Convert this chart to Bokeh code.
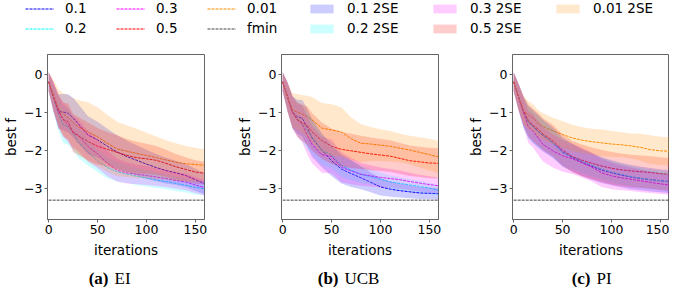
import numpy as np
from bokeh.plotting import figure
from bokeh.layouts import column, row
from bokeh.models import Range1d, FixedTicker, Legend, LegendItem, Label
from bokeh.embed import file_html
from bokeh.resources import INLINE

# ---------------- data ----------------
ITER = [0, 5, 10, 15, 20, 25, 30, 40, 50, 60, 70, 80, 90, 100, 110, 120, 130, 140, 150, 159]
FMIN = -3.32
SERIES = ["0.1", "0.2", "0.3", "0.5", "0.01"]
X_TICKS = [0, 50, 100, 150]
Y_TICKS = [0, -1, -2, -3]
Y_TICK_LABELS = ["0", "\u22121", "\u22122", "\u22123"]
PANEL_CAPTIONS = [("(a)", "EI"), ("(b)", "UCB"), ("(c)", "PI")]

# (a) EI : mean best f
EI_01 = [-0.2, -0.6, -0.98, -1.0, -1.03, -1.15, -1.3, -1.6, -1.73, -1.9, -2.05, -2.17, -2.27, -2.37, -2.46, -2.54, -2.6, -2.67, -2.78, -2.88]
EI_02 = [-0.2, -0.65, -1.05, -1.34, -1.38, -1.55, -1.78, -2.05, -2.28, -2.46, -2.57, -2.63, -2.69, -2.74, -2.79, -2.83, -2.88, -2.93, -2.98, -3.02]
EI_03 = [-0.2, -0.6, -1.0, -1.2, -1.35, -1.52, -1.6, -1.9, -2.1, -2.35, -2.53, -2.6, -2.64, -2.67, -2.71, -2.75, -2.8, -2.84, -2.92, -2.99]
EI_05 = [-0.2, -0.6, -0.95, -1.2, -1.25, -1.55, -1.62, -1.77, -1.9, -1.98, -2.06, -2.14, -2.2, -2.23, -2.27, -2.35, -2.44, -2.51, -2.58, -2.61]
EI_001 = [-0.2, -0.55, -0.9, -1.05, -1.15, -1.28, -1.38, -1.52, -1.65, -1.82, -1.97, -2.03, -2.09, -2.14, -2.2, -2.26, -2.32, -2.36, -2.38, -2.4]
# (a) EI : 2SE
EI_01_SE = [0.25, 0.38, 0.45, 0.48, 0.5, 0.52, 0.52, 0.5, 0.48, 0.46, 0.44, 0.42, 0.4, 0.38, 0.36, 0.34, 0.32, 0.3, 0.29, 0.28]
EI_02_SE = [0.25, 0.38, 0.45, 0.48, 0.48, 0.45, 0.42, 0.35, 0.3, 0.28, 0.26, 0.24, 0.23, 0.22, 0.21, 0.2, 0.2, 0.19, 0.19, 0.18]
EI_03_SE = [0.25, 0.38, 0.42, 0.45, 0.45, 0.43, 0.42, 0.4, 0.38, 0.34, 0.3, 0.28, 0.26, 0.25, 0.24, 0.23, 0.22, 0.22, 0.21, 0.21]
EI_05_SE = [0.25, 0.38, 0.42, 0.45, 0.48, 0.5, 0.5, 0.5, 0.48, 0.46, 0.45, 0.43, 0.42, 0.4, 0.38, 0.36, 0.34, 0.32, 0.31, 0.3]
EI_001_SE = [0.25, 0.4, 0.5, 0.55, 0.6, 0.65, 0.7, 0.78, 0.78, 0.75, 0.72, 0.68, 0.65, 0.6, 0.56, 0.52, 0.5, 0.47, 0.44, 0.42]

# (b) UCB : mean best f
UCB_01 = [-0.2, -0.6, -1.0, -1.12, -1.16, -1.4, -1.68, -2.0, -2.28, -2.5, -2.62, -2.73, -2.85, -2.97, -3.03, -3.07, -3.1, -3.13, -3.14, -3.15]
UCB_02 = [-0.2, -0.6, -1.0, -1.18, -1.3, -1.5, -1.65, -2.0, -2.13, -2.4, -2.53, -2.64, -2.7, -2.77, -2.84, -2.88, -2.92, -2.96, -3.0, -3.06]
UCB_03 = [-0.2, -0.6, -1.0, -1.2, -1.32, -1.6, -1.85, -2.12, -2.17, -2.45, -2.55, -2.64, -2.68, -2.72, -2.75, -2.78, -2.83, -2.87, -2.91, -2.94]
UCB_05 = [-0.2, -0.6, -1.0, -1.2, -1.28, -1.35, -1.52, -1.75, -1.9, -1.98, -2.02, -2.06, -2.1, -2.13, -2.16, -2.22, -2.28, -2.31, -2.34, -2.35]
UCB_001 = [-0.2, -0.6, -0.95, -1.0, -1.05, -1.12, -1.2, -1.42, -1.47, -1.52, -1.7, -1.82, -1.84, -1.87, -1.9, -1.95, -2.0, -2.06, -2.12, -2.18]
# (b) UCB : 2SE
UCB_01_SE = [0.25, 0.38, 0.42, 0.45, 0.48, 0.5, 0.5, 0.45, 0.4, 0.38, 0.35, 0.3, 0.26, 0.23, 0.2, 0.18, 0.17, 0.16, 0.15, 0.15]
UCB_02_SE = [0.25, 0.38, 0.42, 0.45, 0.48, 0.48, 0.45, 0.4, 0.35, 0.3, 0.26, 0.23, 0.2, 0.18, 0.17, 0.16, 0.15, 0.15, 0.14, 0.14]
UCB_03_SE = [0.25, 0.38, 0.42, 0.45, 0.48, 0.5, 0.5, 0.48, 0.45, 0.4, 0.35, 0.3, 0.28, 0.26, 0.25, 0.24, 0.23, 0.22, 0.22, 0.22]
UCB_05_SE = [0.25, 0.38, 0.42, 0.45, 0.48, 0.5, 0.5, 0.48, 0.47, 0.46, 0.45, 0.44, 0.43, 0.42, 0.42, 0.41, 0.4, 0.4, 0.4, 0.4]
UCB_001_SE = [0.25, 0.38, 0.45, 0.48, 0.5, 0.55, 0.6, 0.66, 0.68, 0.65, 0.56, 0.5, 0.45, 0.42, 0.4, 0.38, 0.38, 0.4, 0.42, 0.42]

# (c) PI : mean best f
PI_01 = [-0.2, -0.6, -1.0, -1.25, -1.38, -1.5, -1.62, -1.8, -2.05, -2.2, -2.33, -2.43, -2.53, -2.6, -2.66, -2.71, -2.75, -2.78, -2.81, -2.83]
PI_02 = [-0.2, -0.6, -1.0, -1.28, -1.4, -1.52, -1.6, -1.82, -2.07, -2.18, -2.3, -2.4, -2.5, -2.58, -2.64, -2.7, -2.74, -2.78, -2.81, -2.84]
PI_03 = [-0.2, -0.6, -1.0, -1.39, -1.5, -1.68, -1.85, -2.02, -2.15, -2.23, -2.33, -2.45, -2.6, -2.68, -2.73, -2.77, -2.81, -2.85, -2.89, -2.92]
PI_05 = [-0.2, -0.6, -0.96, -1.22, -1.35, -1.45, -1.58, -1.75, -2.0, -2.17, -2.27, -2.35, -2.42, -2.48, -2.52, -2.55, -2.57, -2.59, -2.62, -2.64]
PI_001 = [-0.2, -0.6, -0.95, -1.08, -1.15, -1.3, -1.38, -1.49, -1.59, -1.68, -1.74, -1.78, -1.81, -1.84, -1.86, -1.89, -1.93, -1.99, -2.02, -2.03]
# (c) PI : 2SE
PI_01_SE = [0.25, 0.35, 0.4, 0.42, 0.43, 0.43, 0.42, 0.4, 0.38, 0.37, 0.36, 0.35, 0.34, 0.33, 0.32, 0.32, 0.31, 0.31, 0.3, 0.3]
PI_02_SE = [0.25, 0.35, 0.4, 0.42, 0.42, 0.42, 0.4, 0.38, 0.36, 0.34, 0.32, 0.3, 0.29, 0.28, 0.27, 0.26, 0.26, 0.25, 0.25, 0.25]
PI_03_SE = [0.25, 0.35, 0.4, 0.42, 0.44, 0.45, 0.45, 0.44, 0.42, 0.4, 0.39, 0.38, 0.37, 0.35, 0.33, 0.31, 0.3, 0.28, 0.27, 0.26]
PI_05_SE = [0.25, 0.35, 0.4, 0.42, 0.43, 0.43, 0.42, 0.42, 0.41, 0.41, 0.42, 0.42, 0.42, 0.43, 0.43, 0.43, 0.43, 0.43, 0.43, 0.43]
PI_001_SE = [0.25, 0.33, 0.37, 0.37, 0.36, 0.36, 0.35, 0.34, 0.35, 0.35, 0.34, 0.34, 0.35, 0.34, 0.33, 0.33, 0.36, 0.38, 0.37, 0.37]

PANELS = [
    ({"0.1": EI_01, "0.2": EI_02, "0.3": EI_03, "0.5": EI_05, "0.01": EI_001},
     {"0.1": EI_01_SE, "0.2": EI_02_SE, "0.3": EI_03_SE, "0.5": EI_05_SE, "0.01": EI_001_SE}),
    ({"0.1": UCB_01, "0.2": UCB_02, "0.3": UCB_03, "0.5": UCB_05, "0.01": UCB_001},
     {"0.1": UCB_01_SE, "0.2": UCB_02_SE, "0.3": UCB_03_SE, "0.5": UCB_05_SE, "0.01": UCB_001_SE}),
    ({"0.1": PI_01, "0.2": PI_02, "0.3": PI_03, "0.5": PI_05, "0.01": PI_001},
     {"0.1": PI_01_SE, "0.2": PI_02_SE, "0.3": PI_03_SE, "0.5": PI_05_SE, "0.01": PI_001_SE}),
]

# ---------------- style ----------------
COLORS = {"0.1": "blue", "0.2": "cyan", "0.3": "magenta", "0.5": "red", "0.01": "darkorange"}
DASH = "3 1"
BAND_ALPHA = 0.2
FMIN_COLOR = "#444444"
SANS = "DejaVu Sans"
SERIF = "Liberation Serif"
FRAME_COLOR = "#666666"

PANEL_W = [234, 231, 204]
PANEL_R = [30, 27, 0]
PANEL_H = 210
TOTAL_W = 669
LEG_H = 50
CAP_H = 27


def make_panel(means, ses, width, right):
    p = figure(width=width, height=PANEL_H,
               x_range=Range1d(-1.2, 159.3), y_range=Range1d(-3.83, 0.52),
               min_border_left=38, min_border_right=right,
               min_border_top=4, min_border_bottom=40,
               toolbar_location=None, output_backend="svg")
    x = np.array(ITER, dtype=float)
    for s in SERIES:
        p.line(x, means[s], line_color=COLORS[s], line_dash=DASH, line_width=1)
    p.line([x[0], x[-1]], [FMIN, FMIN], line_color=FMIN_COLOR, line_dash=DASH, line_width=1)
    for s in SERIES:
        m = np.array(means[s]); e = np.array(ses[s])
        p.varea(x=x, y1=m - e, y2=m + e, fill_color=COLORS[s], fill_alpha=BAND_ALPHA)
    p.grid.visible = False
    p.outline_line_color = FRAME_COLOR
    p.xaxis.ticker = FixedTicker(ticks=X_TICKS)
    p.yaxis.ticker = FixedTicker(ticks=Y_TICKS)
    p.yaxis.major_label_overrides = {t: l for t, l in zip(Y_TICKS, Y_TICK_LABELS)}
    p.xaxis.axis_label = "iterations"
    p.yaxis.axis_label = "best f"
    for ax in p.axis:
        ax.axis_line_color = FRAME_COLOR
        ax.major_tick_line_color = FRAME_COLOR
        ax.major_tick_out = 3
        ax.major_tick_in = 0
        ax.minor_tick_line_color = None
        ax.major_label_text_font = SANS
        ax.major_label_text_font_size = "12.5px"
        ax.major_label_text_color = "black"
        ax.major_label_standoff = 2
        ax.axis_label_text_font = SANS
        ax.axis_label_text_font_size = "13.5px"
        ax.axis_label_text_font_style = "normal"
        ax.axis_label_text_color = "black"
    p.xaxis.axis_label_standoff = 5
    p.yaxis.axis_label_standoff = 2
    return p


panels = [make_panel(m, s, w, r) for (m, s), w, r in zip(PANELS, PANEL_W, PANEL_R)]

# ---------------- legend strip ----------------
leg = figure(width=TOTAL_W, height=LEG_H, x_range=Range1d(0, 1), y_range=Range1d(0, 1),
             min_border=0, toolbar_location=None, output_backend="svg",
             x_axis_location=None, y_axis_location=None, outline_line_color=None)
leg.grid.visible = False
NAN = [float("nan")]
line_r = {s: leg.line(x=NAN, y=NAN, line_color=COLORS[s], line_dash=DASH, line_width=1) for s in SERIES}
fmin_r = leg.line(x=NAN, y=NAN, line_color=FMIN_COLOR, line_dash=DASH, line_width=1)
band_r = {s: leg.varea(x=NAN, y1=NAN, y2=NAN, fill_color=COLORS[s], fill_alpha=BAND_ALPHA) for s in SERIES}

legend_cols = [
    (25, [("0.1", line_r["0.1"]), ("0.2", line_r["0.2"])]),
    (116, [("0.3", line_r["0.3"]), ("0.5", line_r["0.5"])]),
    (207, [("0.01", line_r["0.01"]), ("fmin", fmin_r)]),
    (307, [("0.1 2SE", band_r["0.1"]), ("0.2 2SE", band_r["0.2"])]),
    (430, [("0.3 2SE", band_r["0.3"]), ("0.5 2SE", band_r["0.5"])]),
    (553, [("0.01 2SE", band_r["0.01"])]),
]
ROW_H = 16
ROW_GAP = 4
TOP = 0
for xpos, items in legend_cols:
    n = len(items)
    h = n * ROW_H + (n - 1) * ROW_GAP
    lg = Legend(items=[LegendItem(label=t, renderers=[r]) for t, r in items],
                location=(xpos, LEG_H - TOP - h), orientation="vertical",
                glyph_width=29, glyph_height=11, label_height=ROW_H,
                label_standoff=11, spacing=ROW_GAP, padding=0, margin=0,
                border_line_color=None, background_fill_alpha=0,
                label_text_font=SANS, label_text_font_size="13.5px",
                label_text_color="black")
    leg.add_layout(lg, "center")

# ---------------- captions strip ----------------
cap = figure(width=TOTAL_W, height=CAP_H, x_range=Range1d(0, 1), y_range=Range1d(0, 1),
             min_border=0, toolbar_location=None, output_backend="svg",
             x_axis_location=None, y_axis_location=None, outline_line_color=None)
cap.grid.visible = False
CAP_SPLIT = [108, 338, 590]
for (tag, name), xs in zip(PANEL_CAPTIONS, CAP_SPLIT):
    cap.add_layout(Label(x=xs, y=9, x_units="screen", y_units="screen", text=tag,
                         text_font=SERIF, text_font_style="bold", text_font_size="17px",
                         text_align="right", text_baseline="middle", text_color="black"))
    cap.add_layout(Label(x=xs + 6, y=9, x_units="screen", y_units="screen", text=name,
                         text_font=SERIF, text_font_style="normal", text_font_size="17px",
                         text_align="left", text_baseline="middle", text_color="black"))

layout = column(leg, row(*panels), cap)
open("out.html", "w").write(file_html(layout, INLINE))
